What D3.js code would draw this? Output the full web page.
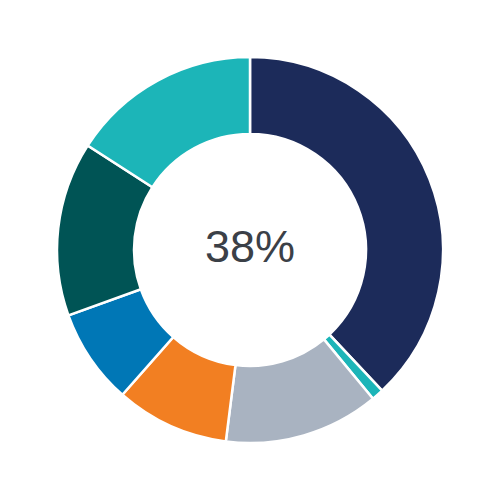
<!DOCTYPE html>
<html>
<head>
<meta charset="utf-8">
<script src="https://cdn.jsdelivr.net/npm/d3@7"></script>
<style>
  html, body { margin: 0; padding: 0; background: #fff; }
  svg { display: block; }
</style>
</head>
<body>
<svg id="chart" width="500" height="500"></svg>
<script>
'use strict';

// slice shares, clockwise from 12 o'clock
var categories = ["A", "B", "C", "D", "E", "F", "G"];
var values = [38, 1, 13, 9.5, 8, 14.6, 15.9];
var colors = ["#1c2b5a", "#1cb5b8", "#a9b3c1", "#f27f22", "#0077b6", "#005455", "#1cb5b8"];
var centerLabel = "38%";

var width = 500, height = 500;
var outerR = 193, innerR = 116;

var svg = d3.select("#chart");
var g = svg.append("g")
    .attr("transform", "translate(" + width / 2 + "," + height / 2 + ")");

var pie = d3.pie().sort(null).value(function(d) { return d; });
var arc = d3.arc().innerRadius(innerR).outerRadius(outerR);

g.selectAll("path.slice")
    .data(pie(values))
    .enter()
    .append("path")
    .attr("class", "slice")
    .attr("d", arc)
    .attr("fill", function(d, i) { return colors[i]; })
    .attr("stroke", "#fff")
    .attr("stroke-width", 2.5)
    .attr("stroke-linejoin", "miter");

g.append("text")
    .attr("x", 0)
    .attr("y", 12)
    .attr("text-anchor", "middle")
    .style("font-family", "'Liberation Sans', Arial, sans-serif")
    .style("font-size", "45px")
    .style("fill", "#3b4047")
    .text(centerLabel);
</script>
</body>
</html>
